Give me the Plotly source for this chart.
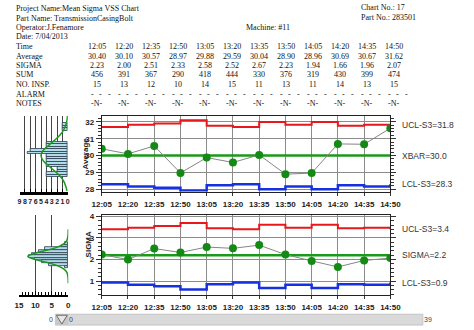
import plotly.graph_objects as go

W, H = 474, 330

# ---- subgroup data -------------------------------------------------------
times = ["12:05", "12:20", "12:35", "12:50", "13:05", "13:20",
         "13:35", "13:50", "14:05", "14:20", "14:35", "14:50"]
averages = [30.40, 30.10, 30.57, 28.97, 29.88, 29.59, 30.04, 28.90, 28.96, 30.69, 30.67, 31.62]
sigmas = [2.23, 2.00, 2.51, 2.33, 2.58, 2.52, 2.67, 2.23, 1.94, 1.66, 1.96, 2.07]
sums = [456, 391, 367, 290, 418, 444, 330, 376, 319, 430, 399, 474]
n_insp = [15, 13, 12, 10, 14, 15, 11, 13, 11, 14, 13, 15]

# ---- control limits (vary with subgroup size) ----------------------------
xbar_center = 30.0
avg_ucl = [31.70, 31.83, 31.90, 32.09, 31.76, 31.70, 31.99, 31.83, 31.99, 31.76, 31.83, 31.70]
avg_lcl = [28.30, 28.17, 28.10, 27.91, 28.24, 28.30, 28.01, 28.17, 28.01, 28.24, 28.17, 28.30]
avg_ucl_label, avg_lcl_label = 31.8, 28.3

sigma_center = 2.2
sig_ucl = [3.40, 3.47, 3.56, 3.69, 3.45, 3.40, 3.61, 3.47, 3.61, 3.45, 3.47, 3.40]
sig_lcl = [0.94, 0.83, 0.77, 0.62, 0.86, 0.94, 0.68, 0.83, 0.68, 0.86, 0.83, 0.94]
sig_ucl_label, sig_lcl_label = 3.4, 0.9

# ---- side histograms ------------------------------------------------------
avg_hist_bins = [31.85, 31.70, 31.55, 30.75, 30.60, 30.45, 30.30, 30.15, 30.00,
                 29.85, 29.70, 29.55, 29.40, 29.25, 29.10, 28.95, 28.80]
avg_hist_counts = [1, 1, 1, 4, 4, 4, 7, 7.5, 4, 4, 4, 4, 4, 2, 2, 4, 4]
avg_curve_vals = [32.4, 32.1, 31.8, 31.5, 31.2, 30.9, 30.6, 30.3, 30.0,
                  29.7, 29.4, 29.1, 28.8, 28.5, 28.2, 27.9]
avg_curve_counts = [0.05, 0.15, 0.4, 0.8, 1.5, 2.5, 3.6, 4.6, 5.0,
                    4.6, 3.6, 2.5, 1.5, 0.8, 0.4, 0.15]

sig_hist_bins = [2.74, 2.62, 2.50, 2.38, 2.26, 2.14, 2.02, 1.90, 1.78, 1.66]
sig_hist_counts = [1, 2, 7, 9, 11, 12, 10, 8, 6, 1]
sig_curve_vals = [3.4, 3.1, 2.9, 2.75, 2.6, 2.45, 2.3, 2.15, 2.0, 1.85, 1.7, 1.55, 1.4, 1.2, 0.9]
sig_curve_counts = [0.02, 0.1, 0.4, 1.2, 3.0, 6.0, 10.0, 12.3, 10.0, 6.0, 3.0, 1.2, 0.4, 0.1, 0.02]

# ---- header info ----------------------------------------------------------
header_left = ["Project Name:Mean Sigma VSS Chart", "Part Name: TransmissionCasingBolt",
               "Operator:J.Fenamore", "Date: 7/04/2013"]
chart_no = "Chart No.: 17"
part_no = "Part No.: 283501"
machine = "Machine: #11"
row_labels = ["Time", "Average", "SIGMA", "SUM", "NO. INSP.", "ALARM", "NOTES"]


def X(px):
    return px / W


def Y(py):
    return 1 - py / H


idx = list(range(len(times)))
RED, BLUE, GREEN, PT = "#e8171b", "#1632e0", "#1a9a1a", "#138a13"
SANS = "Liberation Sans"
SERIF = "Liberation Serif"

fig = go.Figure()

# Average chart
fig.add_trace(go.Scatter(x=idx, y=avg_ucl, mode="lines", line=dict(color=RED, width=2, shape="hv"),
                         xaxis="x", yaxis="y"))
fig.add_trace(go.Scatter(x=idx, y=avg_lcl, mode="lines", line=dict(color=BLUE, width=2.5, shape="hv"),
                         xaxis="x", yaxis="y"))
fig.add_trace(go.Scatter(x=[idx[0], idx[-1]], y=[xbar_center] * 2, mode="lines",
                         line=dict(color=GREEN, width=2.5), xaxis="x", yaxis="y"))
fig.add_trace(go.Scatter(x=idx, y=averages, mode="lines+markers",
                         line=dict(color="#858585", width=1),
                         marker=dict(size=8, color=PT), xaxis="x", yaxis="y"))

# Sigma chart
fig.add_trace(go.Scatter(x=idx, y=sig_ucl, mode="lines", line=dict(color=RED, width=2, shape="hv"),
                         xaxis="x2", yaxis="y2"))
fig.add_trace(go.Scatter(x=idx, y=sig_lcl, mode="lines", line=dict(color=BLUE, width=2.5, shape="hv"),
                         xaxis="x2", yaxis="y2"))
fig.add_trace(go.Scatter(x=[idx[0], idx[-1]], y=[sigma_center] * 2, mode="lines",
                         line=dict(color=GREEN, width=2.5), xaxis="x2", yaxis="y2"))
fig.add_trace(go.Scatter(x=idx, y=sigmas, mode="lines+markers",
                         line=dict(color="#858585", width=1),
                         marker=dict(size=8, color=PT), xaxis="x2", yaxis="y2"))

# Histograms
fig.add_trace(go.Bar(y=avg_hist_bins, x=avg_hist_counts, orientation="h", width=0.15,
                     marker=dict(color="#b3dbe8", line=dict(color="#2b3f52", width=0.8)),
                     xaxis="x3", yaxis="y3"))
fig.add_trace(go.Scatter(x=avg_curve_counts, y=avg_curve_vals, mode="lines",
                         line=dict(color=GREEN, width=1.5, shape="spline"), xaxis="x3", yaxis="y3"))
fig.add_trace(go.Bar(y=sig_hist_bins, x=sig_hist_counts, orientation="h", width=0.12,
                     marker=dict(color="#b3dbe8", line=dict(color="#2b3f52", width=0.8)),
                     xaxis="x4", yaxis="y4"))
fig.add_trace(go.Scatter(x=sig_curve_counts, y=sig_curve_vals, mode="lines",
                         line=dict(color=GREEN, width=1.5, shape="spline"), xaxis="x4", yaxis="y4"))

tickfont = dict(family=SANS, size=8, color="#222", weight="bold")
avg_range = [27.87, 32.35]
sig_range = [0.38, 4.06]
avg_dom = [Y(192), Y(115)]
sig_dom = [Y(297), Y(216)]

main_x = dict(range=[0, len(times) - 1], tickvals=idx, ticktext=times, showgrid=True,
              gridcolor="#8c8c8c", gridwidth=1, showline=True, linecolor="#222", linewidth=1,
              mirror=True, ticks="outside", ticklen=3, tickcolor="#333", tickfont=tickfont,
              tickangle=0, ticklabelstandoff=2, zeroline=False, domain=[X(96), X(398)])
fig.update_layout(
    xaxis=dict(main_x, anchor="y"),
    xaxis2=dict(main_x, anchor="y2"),
    yaxis=dict(domain=avg_dom, range=avg_range, tickvals=[28, 29, 30, 31, 32], showgrid=True,
               gridcolor="#8c8c8c", showline=True, linecolor="#222", mirror="allticks",
               ticks="outside", ticklen=5, tickcolor="#333", tickfont=tickfont, zeroline=False,
               minor=dict(dtick=0.2, ticks="outside", ticklen=3, tickcolor="#333", showgrid=False),
               anchor="x"),
    yaxis2=dict(domain=sig_dom, range=sig_range, tickvals=[1, 2, 3, 4], showgrid=True,
                gridcolor="#8c8c8c", showline=True, linecolor="#222", mirror="allticks",
                ticks="outside", ticklen=5, tickcolor="#333", tickfont=tickfont, zeroline=False,
                minor=dict(dtick=0.2, ticks="outside", ticklen=3, tickcolor="#333", showgrid=False),
                anchor="x2"),
    xaxis3=dict(domain=[X(10), X(60.5)], range=[9, 0], tickvals=list(range(10)), showgrid=True,
                gridcolor="#444", gridwidth=1, showline=True, linecolor="#000", linewidth=3,
                ticks="inside", ticklen=3, tickcolor="#000", zeroline=False, tickangle=0,
                ticklabelstandoff=1,
                tickfont=dict(family=SANS, size=7, color="#222", weight="bold"), anchor="y3"),
    yaxis3=dict(domain=avg_dom, range=avg_range, visible=False, anchor="x3"),
    xaxis4=dict(domain=[X(9.3), X(61)], range=[15, 0], tickvals=[0, 5, 10, 15], showgrid=True,
                gridcolor="#444", gridwidth=1, showline=True, linecolor="#000", linewidth=1.5,
                ticks="inside", ticklen=4, tickcolor="#000", zeroline=False, tickangle=0,
                ticklabelstandoff=2,
                minor=dict(dtick=1, ticks="inside", ticklen=3, tickcolor="#000", showgrid=False),
                tickfont=dict(family=SANS, size=8, color="#222", weight="bold"), anchor="y4"),
    yaxis4=dict(domain=sig_dom, range=sig_range, visible=False, anchor="x4"),
)

ann = []


def text(x, y, s, anchor="left", size=8, family=SERIF, color="#111", **kw):
    ann.append(dict(x=X(x), y=Y(y), xref="paper", yref="paper", text=s, showarrow=False,
                    xanchor=anchor, yanchor="middle",
                    font=dict(family=family, size=size, color=color), **kw))


# header block
for i, s in enumerate(header_left):
    text(4, [5.5, 15.5, 25, 34.5][i], s)
text(245, 24.5, machine)
text(365, 4.5, chart_no)
text(365, 14.5, part_no)

# data table
row_y = [44.5, 54, 63.7, 73.3, 83, 92.7, 102.5]
for lbl, ry in zip(row_labels, row_y):
    text(4, ry, lbl)
col_x = [90.7 + 28.27 * i for i in idx]
for i, cx in enumerate(col_x):
    text(cx, row_y[0], times[i], "center")
    text(cx, row_y[1], f"{averages[i]:.2f}", "center")
    text(cx, row_y[2], f"{sigmas[i]:.2f}", "center")
    text(cx, row_y[3], str(sums[i]), "center")
    text(cx, row_y[4], str(n_insp[i]), "center")
    for off in (-4.7, 4.2, 12.9):
        text(cx + off, row_y[5], "-", "center")
    text(cx, row_y[6], "-N-", "center")

# axis titles
ann.append(dict(x=X(72), y=Y(153), xref="paper", yref="paper", text="Average", showarrow=False,
                textangle=-90, font=dict(family=SANS, size=8, color="#222", weight="bold")))
ann.append(dict(x=X(75), y=Y(261), xref="paper", yref="paper", text="SIGMA", showarrow=False,
                textangle=-90, font=dict(family=SANS, size=8, color="#222", weight="bold")))

# control-limit labels
for yref, val, s in [("y", avg_ucl_label, f"UCL-S3={avg_ucl_label:.1f}"),
                     ("y", xbar_center, f"XBAR={xbar_center:.1f}"),
                     ("y", avg_lcl_label, f"LCL-S3={avg_lcl_label:.1f}"),
                     ("y2", sig_ucl_label, f"UCL-S3={sig_ucl_label:.1f}"),
                     ("y2", sigma_center, f"SIGMA={sigma_center:.1f}"),
                     ("y2", sig_lcl_label, f"LCL-S3={sig_lcl_label:.1f}")]:
    ann.append(dict(x=X(408), y=val, xref="paper", yref=yref, text=s, showarrow=False,
                    xanchor="left", yanchor="middle",
                    font=dict(family=SANS, size=8.5, color="#333")))

# scroll bar
text(43, 322.5, "0", "center", size=7, family=SANS, color="#444")
text(64, 322.5, "0", "center", size=7, family=SANS, color="#444")
text(437, 322.5, "39", "center", size=7, family=SANS, color="#444")

shapes = [
    dict(type="rect", xref="paper", yref="paper", x0=X(47.5), x1=X(432), y0=Y(328), y1=Y(317),
         fillcolor="#d9d9d9", line=dict(color="#c4c4c4", width=1)),
    dict(type="rect", xref="paper", yref="paper", x0=X(47.5), x1=X(61), y0=Y(328), y1=Y(317),
         fillcolor="#c8c8c8", line=dict(width=0)),
    dict(type="path", xref="paper", yref="paper",
         path=f"M {X(48.5)},{Y(318)} L {X(60)},{Y(318)} L {X(54.2)},{Y(327)} Z",
         fillcolor="#e6e6e6", line=dict(color="#6a6a6a", width=1)),
]

fig.update_layout(
    width=W, height=H, margin=dict(l=0, r=0, t=0, b=0),
    paper_bgcolor="white", plot_bgcolor="white", showlegend=False,
    annotations=ann, shapes=shapes, bargap=0,
)

fig.write_html("out.html")
